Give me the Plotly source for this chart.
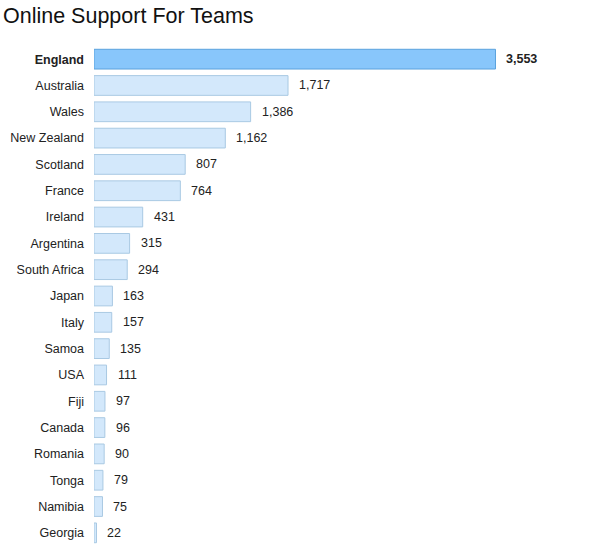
import plotly.graph_objects as go

teams = ['England', 'Australia', 'Wales', 'New Zealand', 'Scotland', 'France',
         'Ireland', 'Argentina', 'South Africa', 'Japan', 'Italy', 'Samoa',
         'USA', 'Fiji', 'Canada', 'Romania', 'Tonga', 'Namibia', 'Georgia']
support = [3553, 1717, 1386, 1162, 807, 764, 431, 315, 294, 163, 157, 135,
           111, 97, 96, 90, 79, 75, 22]
highlight = 'England'

fill_colors = ['#88c6fb' if t == highlight else '#d3e8fb' for t in teams]
line_colors = ['#5ba2dd' if t == highlight else '#a9c9e3' for t in teams]
tick_text = [f'<b>{t}</b>' if t == highlight else t for t in teams]

fig = go.Figure(
    go.Bar(
        x=support,
        y=teams,
        orientation='h',
        marker=dict(color=fill_colors, line=dict(color=line_colors, width=1)),
        hoverinfo='skip',
    )
)

# value labels just right of each bar
for t, v in zip(teams, support):
    txt = f'{v:,}'
    if t == highlight:
        txt = f'<b>{txt}</b>'
    fig.add_annotation(
        x=v, y=t, text=txt, showarrow=False,
        xanchor='left', xshift=9,
        font=dict(family='Liberation Sans', size=12.5, color='#222222'),
    )

fig.update_layout(
    width=599,
    height=559,
    margin=dict(l=94, r=53, t=46, b=13),
    paper_bgcolor='white',
    plot_bgcolor='white',
    bargap=0.25,
    showlegend=False,
    title=dict(
        text='Online Support For Teams',
        x=0.005, xanchor='left',
        y=0.972, yanchor='middle',
        font=dict(family='Liberation Sans', size=21.5, color='#111111'),
    ),
    font=dict(family='Liberation Sans', size=12.5, color='#222222'),
)
fig.update_xaxes(range=[0, 4000], visible=False, fixedrange=True)
fig.update_yaxes(
    autorange='reversed',
    automargin=False,
    tickvals=teams,
    ticktext=tick_text,
    showgrid=False,
    showline=False,
    ticks='',
    ticklabelstandoff=9,
    fixedrange=True,
)

fig.write_html('out.html', config={'displayModeBar': False},
               post_script="document.body.style.margin='0';")
